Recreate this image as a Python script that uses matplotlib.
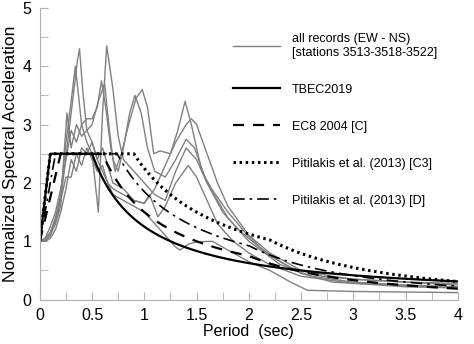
#!/usr/bin/env python
# coding=utf-8
import numpy as np
import matplotlib
matplotlib.use('agg')
import matplotlib.pyplot as plt

# design spectra parameters (normalized, plateau = 2.5)
# TBEC2019: TA, TB
tbec_TA = 0.1
tbec_TB = 0.5
# EC8 2004 soil C: TB, TC, TD
ec8_TB, ec8_TC, ec8_TD = 0.2, 0.6, 2.0
# Pitilakis et al. (2013)
c3_TB, c3_TC, c3_TD = 0.1, 0.9, 2.2
d_TB, d_TC, d_TD = 0.15, 0.74, 2.0

rec1_T = [0, 0.05, 0.1, 0.15, 0.2, 0.24, 0.28, 0.32, 0.36, 0.38, 0.41, 0.45, 0.5, 0.55, 0.6, 0.65, 0.7, 0.8, 0.9,
          1.0, 1.1, 1.2, 1.3, 1.4, 1.45, 1.5, 1.6, 1.7, 1.8, 2.0, 2.2, 2.5, 2.8, 3.0, 3.5, 4.0]
rec1_A = [1.0, 1.02, 1.15, 1.35, 1.7, 2.3, 2.9, 3.5, 4.1, 4.3, 3.6, 2.9, 2.7, 2.4, 2.2, 2.0, 1.9, 1.8, 1.7,
          1.65, 1.9, 2.3, 2.7, 3.0, 3.1, 3.0, 2.5, 2.0, 1.6, 1.1, 0.8, 0.5, 0.4, 0.35, 0.3, 0.28]

rec2_T = [0, 0.05, 0.1, 0.15, 0.2, 0.25, 0.3, 0.34, 0.4, 0.45, 0.5, 0.56, 0.6, 0.64, 0.7, 0.75, 0.8, 0.9,
          1.0, 1.1, 1.2, 1.3, 1.4, 1.5, 1.6, 1.8, 2.0, 2.3, 2.6, 3.0, 3.5, 4.0]
rec2_A = [1.0, 1.05, 1.15, 1.4, 1.8, 2.7, 3.4, 4.0, 3.0, 2.7, 2.5, 1.5, 3.2, 4.35, 3.6, 2.8, 2.4, 2.2,
          2.0, 1.8, 1.7, 2.2, 2.6, 2.4, 2.0, 1.4, 1.0, 0.6, 0.4, 0.3, 0.25, 0.22]

rec3_T = [0, 0.05, 0.1, 0.15, 0.2, 0.25, 0.3, 0.35, 0.4, 0.45, 0.5, 0.55, 0.59, 0.63, 0.68, 0.72, 0.78, 0.85,
          0.92, 0.98, 1.03, 1.09, 1.15, 1.25, 1.32, 1.39, 1.45, 1.55, 1.65, 1.8, 1.97, 2.16, 2.4, 2.7, 3.0,
          3.5, 4.0]
rec3_A = [1.0, 1.05, 1.25, 1.5, 1.9, 2.4, 2.9, 2.7, 3.0, 3.1, 3.1, 3.3, 3.75, 3.3, 2.6, 2.2, 2.5, 3.0,
          3.45, 3.6, 3.3, 2.5, 2.55, 2.5, 2.9, 3.4, 3.0, 2.2, 1.88, 1.5, 1.14, 0.8, 0.55, 0.4, 0.35,
          0.3, 0.25]

rec4_T = [0, 0.05, 0.1, 0.15, 0.2, 0.22, 0.26, 0.3, 0.35, 0.4, 0.45, 0.5, 0.56, 0.62, 0.66, 0.7, 0.75, 0.8,
          0.86, 0.91, 0.97, 1.03, 1.1, 1.2, 1.3, 1.4, 1.48, 1.6, 1.75, 1.9, 2.1, 2.3, 2.5, 2.8, 3.0, 3.5, 4.0]
rec4_A = [1.0, 1.0, 1.1, 1.3, 1.6, 2.2, 3.2, 2.6, 3.0, 2.8, 2.9, 3.0, 3.4, 3.7, 3.0, 2.4, 2.2, 2.6,
          3.2, 3.5, 3.2, 2.6, 2.2, 2.1, 2.4, 2.75, 2.6, 2.0, 1.5, 1.2, 0.9, 0.65, 0.45, 0.3, 0.28, 0.22, 0.2]

rec5_T = [0, 0.05, 0.1, 0.15, 0.2, 0.25, 0.3, 0.35, 0.4, 0.45, 0.5, 0.55, 0.6, 0.65, 0.7, 0.8, 0.9, 1.0,
          1.05, 1.13, 1.2, 1.3, 1.42, 1.5, 1.6, 1.7, 1.85, 2.0, 2.2, 2.5, 3.0, 3.5, 4.0]
rec5_A = [1.0, 1.0, 1.05, 1.2, 1.5, 1.9, 2.4, 2.2, 2.6, 2.5, 2.7, 2.4, 2.6, 2.3, 2.0, 1.9, 1.7, 1.65,
          1.8, 1.42, 1.6, 2.0, 2.3, 2.1, 1.7, 1.3, 1.0, 0.8, 0.6, 0.4, 0.28, 0.24, 0.2]

rec6_T = [0, 0.05, 0.1, 0.15, 0.2, 0.25, 0.3, 0.35, 0.4, 0.45, 0.5, 0.55, 0.6, 0.65, 0.7, 0.8, 0.9, 1.0,
          1.1, 1.2, 1.3, 1.34, 1.42, 1.5, 1.65, 1.8, 2.0, 2.2, 2.4, 2.56, 3.0, 3.5, 4.0]
rec6_A = [1.0, 1.0, 1.1, 1.4, 1.7, 2.1, 2.1, 2.5, 2.3, 2.6, 2.4, 2.2, 2.3, 2.0, 1.8, 1.7, 1.6, 1.5,
          1.3, 1.1, 0.9, 0.85, 0.95, 0.99, 1.0, 0.85, 0.65, 0.5, 0.3, 0.16, 0.14, 0.13, 0.12]

records = [(rec1_T, rec1_A), (rec2_T, rec2_A), (rec3_T, rec3_A),
           (rec4_T, rec4_A), (rec5_T, rec5_A), (rec6_T, rec6_A)]

labels = ['all records (EW - NS)\n[stations 3513-3518-3522]', 'TBEC2019', 'EC8 2004 [C]',
          'Pitilakis et al. (2013) [C3]', 'Pitilakis et al. (2013) [D]']


def tbec(T):
    A = np.where(T < tbec_TA, 1.0 + 1.5 * T / tbec_TA, 2.5)
    A = np.where(T > tbec_TB, 2.5 * tbec_TB / T, A)
    return A


def ec8_like(T, TB, TC, TD):
    A = np.where(T < TB, 1.0 + 1.5 * T / TB, 2.5)
    A = np.where(T > TC, 2.5 * TC / T, A)
    A = np.where(T > TD, 2.5 * TC * TD / T ** 2, A)
    return A


plt.rcParams['font.family'] = ['Liberation Sans', 'DejaVu Sans']
fig = plt.figure(figsize=(4.74, 3.44), dpi=100)
ax = fig.add_axes([0.084, 0.129, 0.882, 0.848])

gray = '#808080'
for i, (t, a) in enumerate(records):
    ax.plot(t, a, color=gray, lw=1.0, label=labels[0] if i == 0 else None)

T = np.linspace(0.0001, 4, 801)
ax.plot(T, tbec(T), color='k', lw=1.6, label=labels[1])
ax.plot(T, ec8_like(T, ec8_TB, ec8_TC, ec8_TD), color='k', lw=1.6, ls=(0, (5, 4)), label=labels[2])
ax.plot(T, ec8_like(T, c3_TB, c3_TC, c3_TD), color='k', lw=2.2, ls=(0, (0.8, 1.2)), label=labels[3])
ax.plot(T, ec8_like(T, d_TB, d_TC, d_TD), color='k', lw=1.2, ls=(0, (7, 3, 1.5, 3)), label=labels[4])

ax.set_xlim(0, 4)
ax.set_ylim(0, 5)
ax.set_xticks(np.arange(0, 4.01, 0.5))
ax.set_xticklabels(['0', '0.5', '1', '1.5', '2', '2.5', '3', '3.5', '4'])
ax.set_xticks(np.arange(0, 4.01, 0.25), minor=True)
ax.set_yticks([0, 1, 2, 3, 4, 5])
ax.set_yticks(np.arange(0, 5.01, 0.5), minor=True)
ax.tick_params(which='both', direction='in', color='#b0b0b0', labelsize=11.5, pad=6)
ax.tick_params(which='major', length=6)
ax.tick_params(which='minor', length=6)
for s in ['top', 'right']:
    ax.spines[s].set_visible(False)
for s in ['left', 'bottom']:
    ax.spines[s].set_color('#b0b0b0')

ax.set_xlabel('Period  (sec)', fontsize=11.5, labelpad=1)
ax.set_ylabel('Normalized Spectral Acceleration', fontsize=12.5, labelpad=3)

leg = ax.legend(loc='upper left', bbox_to_anchor=(0.462, 0.915), frameon=False, fontsize=9,
                handlelength=3.8, labelspacing=2.0, handletextpad=0.9, borderpad=0, borderaxespad=0)

plt.savefig('out.png', dpi=100)
